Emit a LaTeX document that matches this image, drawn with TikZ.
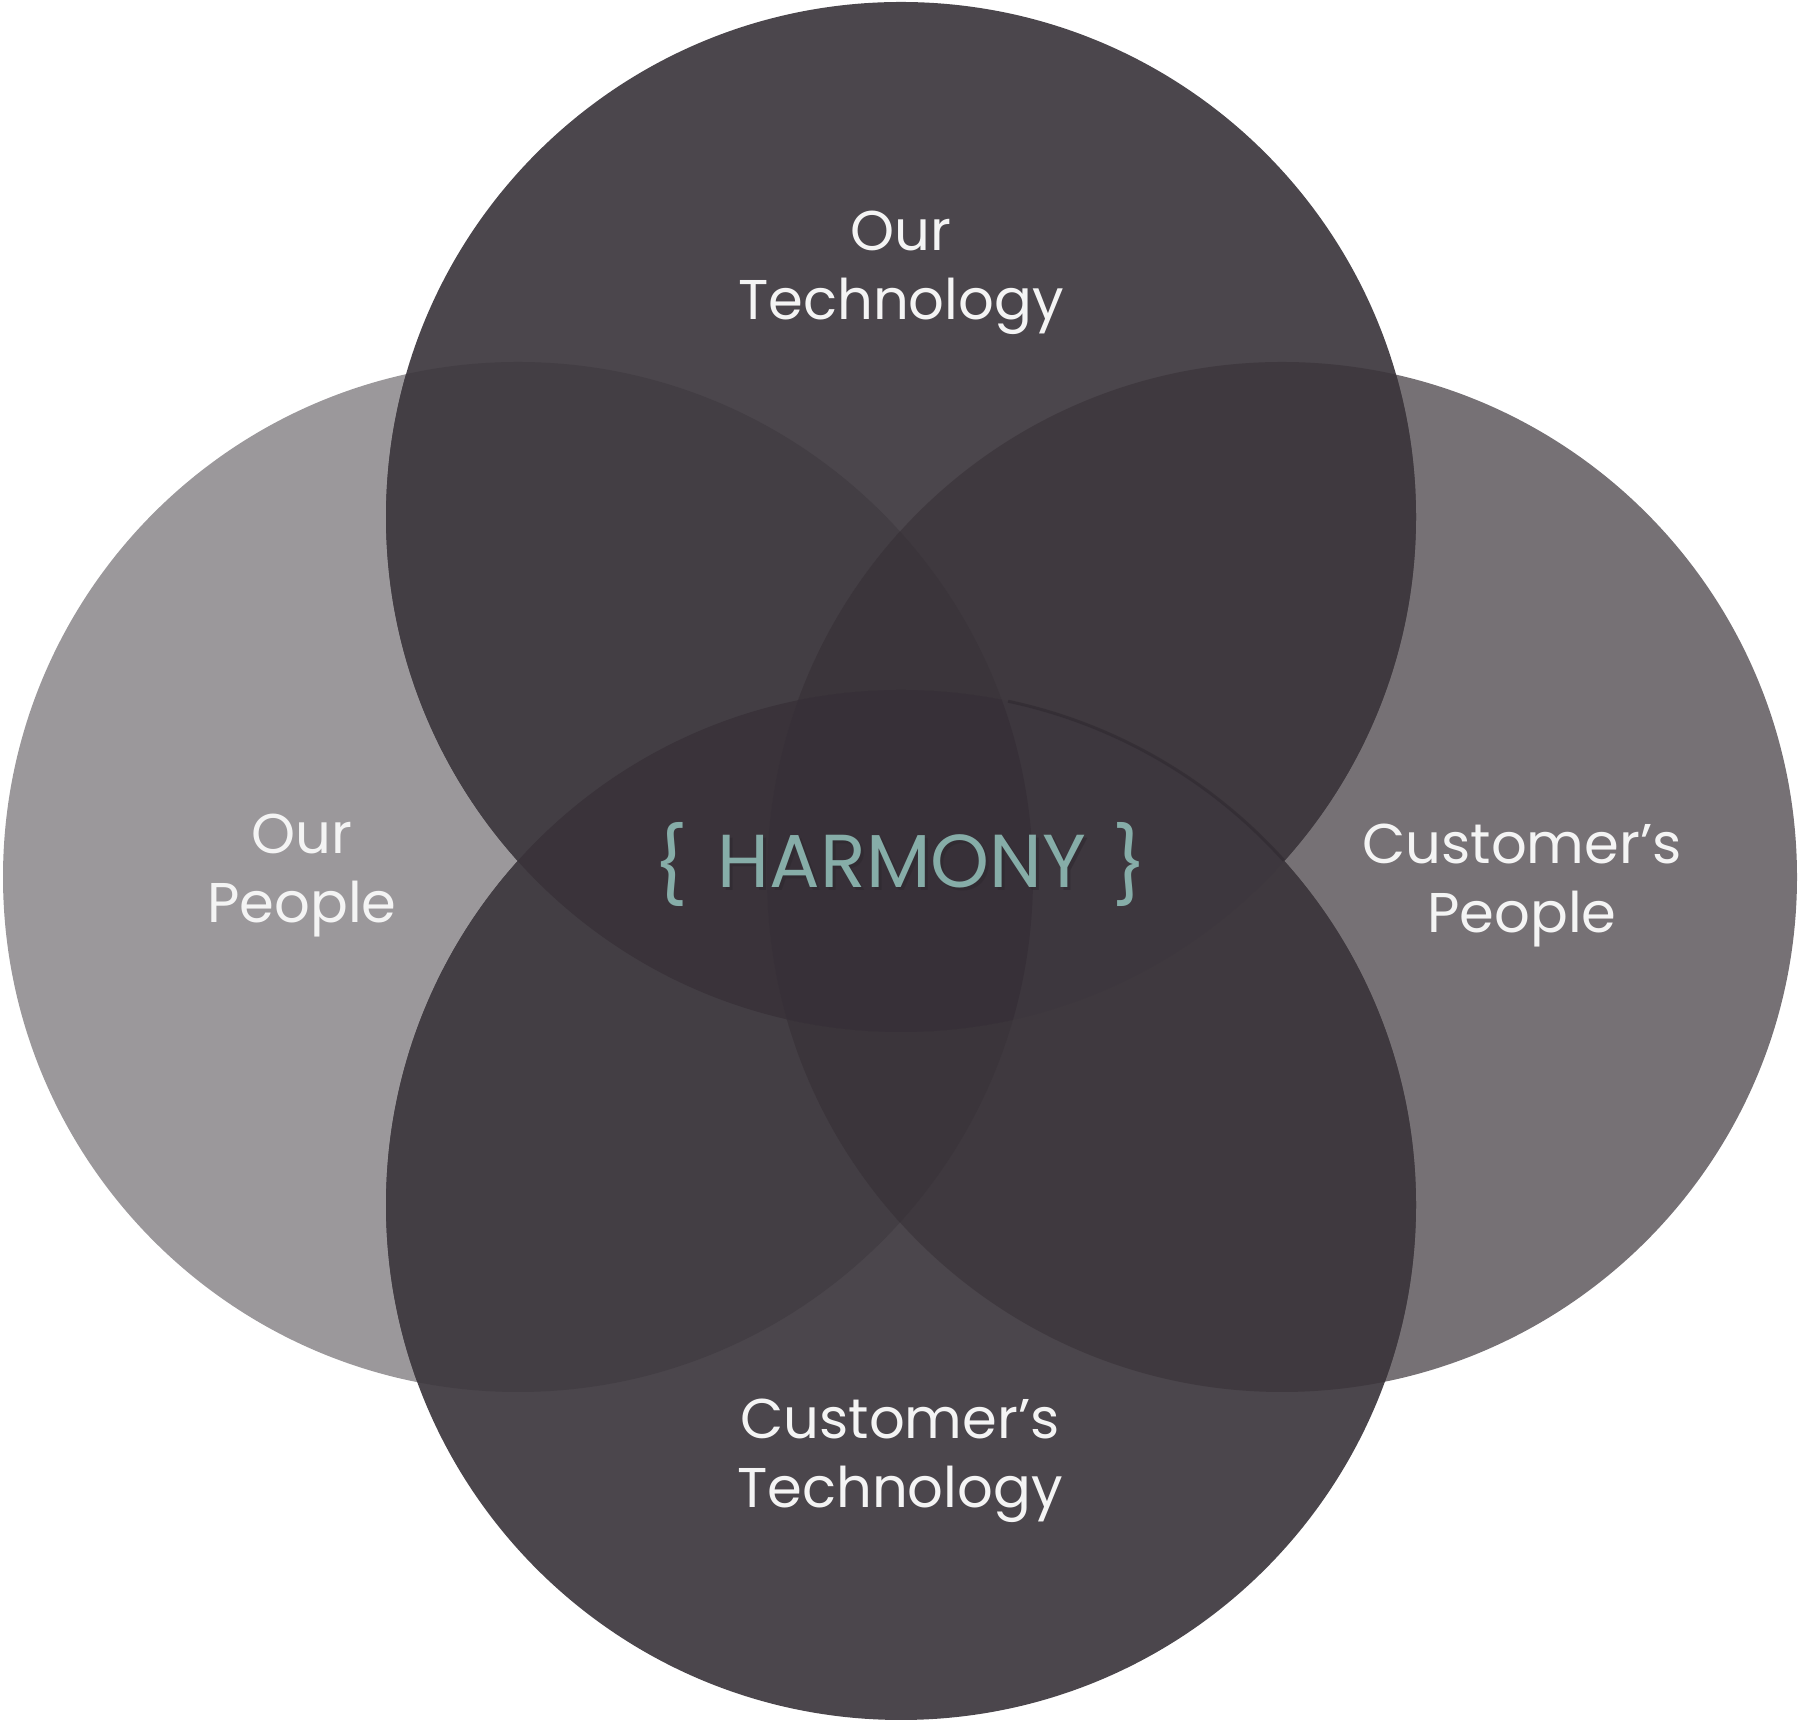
\documentclass[tikz,border=0pt]{standalone}
\usepackage{fontspec}
\setmainfont{Poppins}
\usetikzlibrary{calc}
\definecolor{cL}{HTML}{9B989B}
\definecolor{cR}{HTML}{767175}
\definecolor{cT}{HTML}{4B464C}
\definecolor{cTL}{HTML}{433E44}
\definecolor{cTR}{HTML}{3F393F}
\definecolor{cLR}{HTML}{3B353B}
\definecolor{cTBL}{HTML}{3A333A}
\definecolor{cTBR}{HTML}{3D373E}
\definecolor{cAll}{HTML}{373038}
\definecolor{txt}{HTML}{F4F4F4}
\definecolor{harm}{HTML}{86ADA8}
\definecolor{edge}{HTML}{2E282F}
\tikzset{
  label/.style={text=txt, align=center, font=\fontsize{56}{69}\selectfont, inner sep=0pt},
  harmtext/.style={text=harm, font=\fontsize{75}{84}\selectfont, inner sep=0pt},
  shadowtext/.style={text=edge, opacity=0.6, font=\fontsize{75}{84}\selectfont, inner sep=0pt}
}
\begin{document}
\begin{tikzpicture}[x=1pt,y=1pt]
\useasboundingbox (0,0) rectangle (1800,1723);
\def\rr{515}
\coordinate (T) at (901,1206);
\coordinate (B) at (901,518);
\coordinate (L) at (518,846);
\coordinate (R) at (1282,846);
% base circles
\fill[cL] (L) circle (\rr);
\fill[cR] (R) circle (\rr);
\fill[cT] (T) circle (\rr);
\fill[cT] (B) circle (\rr);
% overlaps with top
\begin{scope}
  \clip (T) circle (\rr);
  \fill[cTL] (L) circle (\rr);
  \fill[cTR] (R) circle (\rr);
\end{scope}
% overlaps with bottom
\begin{scope}
  \clip (B) circle (\rr);
  \fill[cTL] (L) circle (\rr);
  \fill[cTR] (R) circle (\rr);
\end{scope}
% left and right lens
\begin{scope}
  \clip (L) circle (\rr);
  \fill[cLR] (R) circle (\rr);
\end{scope}
% top and bottom lens
\begin{scope}
  \clip (T) circle (\rr);
  \clip (B) circle (\rr);
  \fill[cTBL] (L) circle (\rr);
  \fill[cTBR] (R) circle (\rr);
  \clip (L) circle (\rr);
  \fill[cAll] (R) circle (\rr);
\end{scope}
% thin edge arc
\coordinate (arcstart) at ($(B)+(78:\rr)$);
\draw[edge, line width=3pt, opacity=0.55] (arcstart) arc[start angle=78, end angle=42, radius=\rr];
% labels
\node[label] (ourtech) at (901,1450) {Our\\Technology};
\node[label] (ourpeople) at (302,847) {Our\\People};
\node[label] (custpeople) at (1522,837) {Customer’s\\People};
\node[label] (custtech) at (900,262) {Customer’s\\Technology};
% harmony
\node[shadowtext] (harmshadow) at (905,859) {HARMONY};
\node[harmtext] (harmony) at (902,862) {HARMONY};
\node[harmtext] (lbrace) at (671,858) {\{};
\node[harmtext] (rbrace) at (1130,858) {\}};
\end{tikzpicture}
\end{document}
